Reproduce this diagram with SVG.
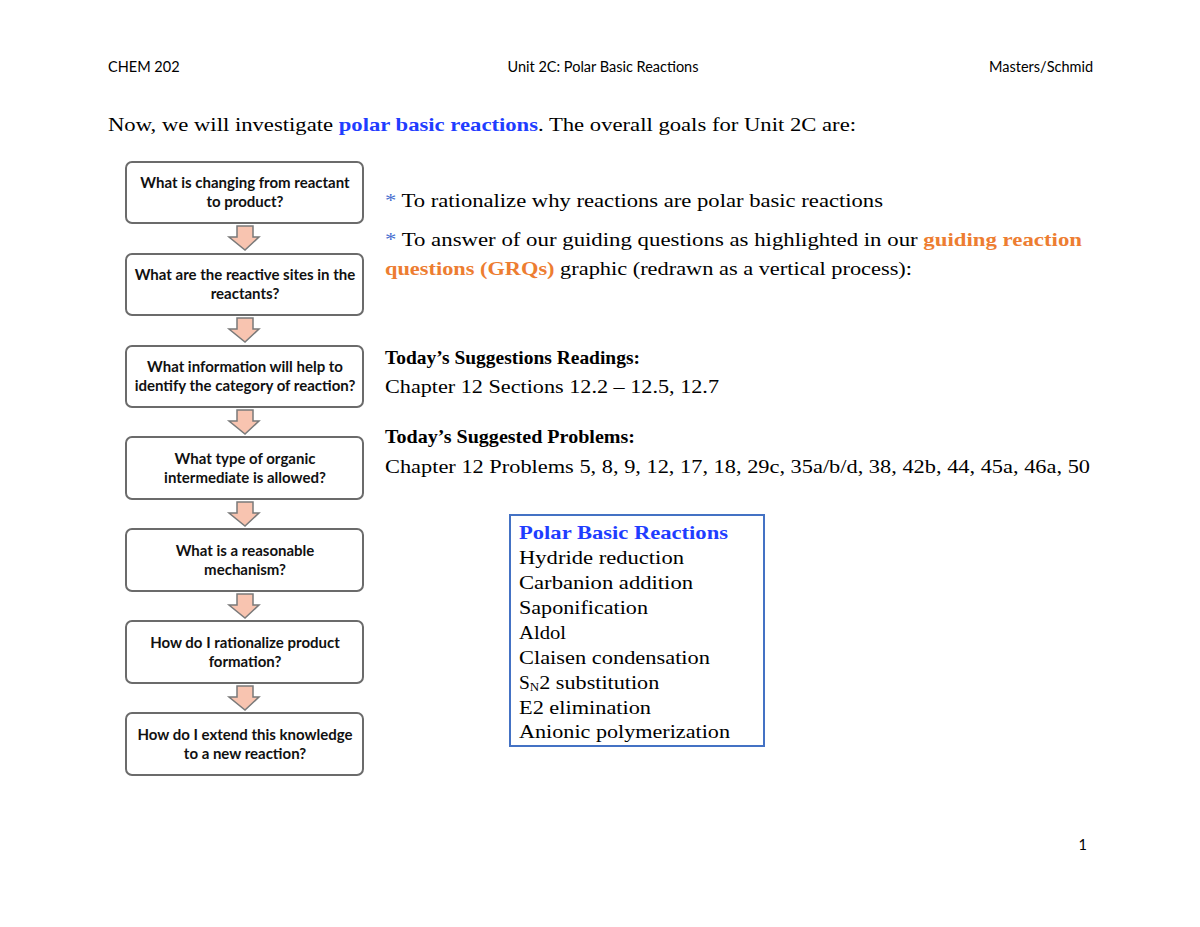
<svg xmlns="http://www.w3.org/2000/svg" width="1200" height="927" viewBox="0 0 1200 927">
<style>
.hdr{font-family:"Lato","Liberation Sans",sans-serif;font-size:14.5px;fill:#000}
.body{font-family:"Liberation Serif","DejaVu Serif",serif;font-size:19.5px;fill:#000}
.b{font-weight:bold}
.blue{fill:#1f3dff}
.orange{fill:#ed7d31}
.box{fill:#fff;stroke:#6b6b6b;stroke-width:2}
.q{font-family:"Lato","Liberation Sans",sans-serif;font-size:15px;font-weight:bold;fill:#111;text-anchor:middle}
.arrow{fill:#f8c4b0;stroke:#7a7a7a;stroke-width:1.5}
.list{fill:#fff;stroke:#4472c4;stroke-width:2}
</style>
<rect width="1200" height="927" fill="#fff"/>
<g id="header">
<text class="hdr" x="108" y="72">CHEM 202</text>
<text class="hdr" x="603" y="72" text-anchor="middle">Unit 2C: Polar Basic Reactions</text>
<text class="hdr" x="1093" y="72" text-anchor="end">Masters/Schmid</text>
<text class="hdr" x="1087" y="850" text-anchor="end">1</text>
</g>
<text class="body" x="108" y="131" textLength="748" lengthAdjust="spacingAndGlyphs">Now, we will investigate <tspan class="blue b">polar basic reactions</tspan>.  The overall goals for Unit 2C are:</text>
<g id="connectors">
<path class="arrow" d="M237,226 H253 V237 H259 L245,250 L229,237 H237 Z"/>
<path class="arrow" d="M237,318 H253 V329 H259 L245,342 L229,329 H237 Z"/>
<path class="arrow" d="M237,410 H253 V421 H259 L245,434 L229,421 H237 Z"/>
<path class="arrow" d="M237,502 H253 V513 H259 L245,526 L229,513 H237 Z"/>
<path class="arrow" d="M237,594 H253 V605 H259 L245,618 L229,605 H237 Z"/>
<path class="arrow" d="M237,686 H253 V697 H259 L245,710 L229,697 H237 Z"/>
</g>
<g id="q1"><rect class="box" x="126" y="162" width="237" height="61" rx="6"/><text class="q" x="245" y="188">What is changing from reactant</text><text class="q" x="245" y="207">to product?</text></g>
<g id="q2"><rect class="box" x="126" y="254" width="237" height="61" rx="6"/><text class="q" x="245" y="280">What are the reactive sites in the</text><text class="q" x="245" y="299">reactants?</text></g>
<g id="q3"><rect class="box" x="126" y="346" width="237" height="61" rx="6"/><text class="q" x="245" y="372">What information will help to</text><text class="q" x="245" y="391">identify the category of reaction?</text></g>
<g id="q4"><rect class="box" x="126" y="437" width="237" height="62" rx="6"/><text class="q" x="245" y="464">What type of organic</text><text class="q" x="245" y="483">intermediate is allowed?</text></g>
<g id="q5"><rect class="box" x="126" y="529" width="237" height="62" rx="6"/><text class="q" x="245" y="556">What is a reasonable</text><text class="q" x="245" y="575">mechanism?</text></g>
<g id="q6"><rect class="box" x="126" y="621" width="237" height="62" rx="6"/><text class="q" x="245" y="648">How do I rationalize product</text><text class="q" x="245" y="667">formation?</text></g>
<g id="q7"><rect class="box" x="126" y="713" width="237" height="62" rx="6"/><text class="q" x="245" y="740">How do I extend this knowledge</text><text class="q" x="245" y="759">to a new reaction?</text></g>
<g id="goals">
<text class="body" x="385" y="207" textLength="498" lengthAdjust="spacingAndGlyphs"><tspan fill="#4a6fd0">*</tspan> To rationalize why reactions are polar basic reactions</text>
<text class="body" x="385" y="246" textLength="697" lengthAdjust="spacingAndGlyphs"><tspan fill="#4a6fd0">*</tspan> To answer of our guiding questions as highlighted in our <tspan class="orange b">guiding   reaction</tspan></text>
<text class="body" x="385" y="275" textLength="527" lengthAdjust="spacingAndGlyphs"><tspan class="orange b">questions (GRQs)</tspan> graphic (redrawn as a vertical process):</text>
<text class="body b" x="385" y="364" textLength="255" lengthAdjust="spacingAndGlyphs">Today’s Suggestions Readings:</text>
<text class="body" x="385" y="393" textLength="334" lengthAdjust="spacingAndGlyphs">Chapter 12 Sections 12.2 – 12.5, 12.7</text>
<text class="body b" x="385" y="443" textLength="250" lengthAdjust="spacingAndGlyphs">Today’s Suggested Problems:</text>
<text class="body" x="385" y="473" textLength="705" lengthAdjust="spacingAndGlyphs">Chapter 12 Problems 5, 8, 9, 12, 17, 18, 29c, 35a/b/d, 38, 42b, 44, 45a, 46a, 50</text>
</g>
<g id="reactions-list">
<rect class="list" x="510" y="515" width="254" height="231"/>
<text class="body b blue" x="519" y="539" textLength="209" lengthAdjust="spacingAndGlyphs">Polar Basic Reactions</text>
<text class="body" x="519" y="564" textLength="165" lengthAdjust="spacingAndGlyphs">Hydride reduction</text>
<text class="body" x="519" y="589" textLength="174" lengthAdjust="spacingAndGlyphs">Carbanion addition</text>
<text class="body" x="519" y="614" textLength="129" lengthAdjust="spacingAndGlyphs">Saponification</text>
<text class="body" x="519" y="639" textLength="47" lengthAdjust="spacingAndGlyphs">Aldol</text>
<text class="body" x="519" y="664" textLength="191" lengthAdjust="spacingAndGlyphs">Claisen condensation</text>
<text class="body" x="519" y="689">S<tspan font-size="13" dy="2">N</tspan><tspan dy="-2" textLength="120" lengthAdjust="spacingAndGlyphs">2 substitution</tspan></text>
<text class="body" x="519" y="714" textLength="132" lengthAdjust="spacingAndGlyphs">E2 elimination</text>
<text class="body" x="519" y="738" textLength="211" lengthAdjust="spacingAndGlyphs">Anionic polymerization</text>
</g>
</svg>
